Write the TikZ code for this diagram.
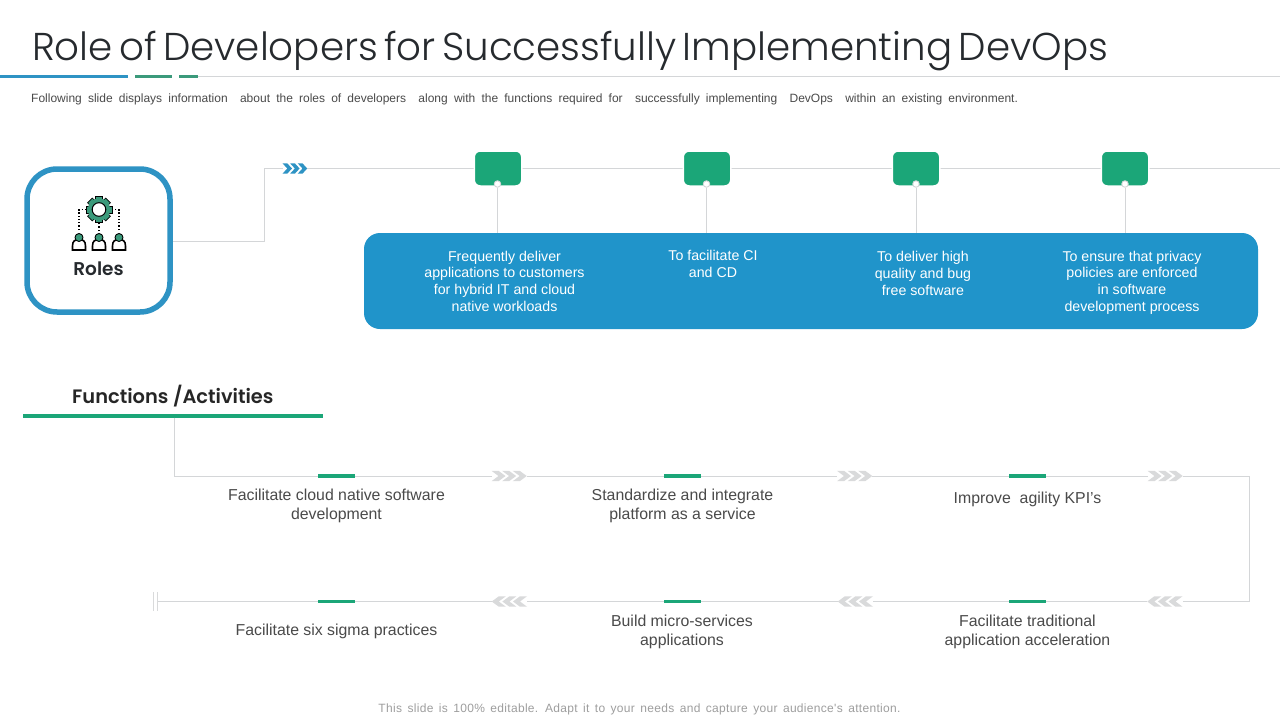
\documentclass[tikz,border=0pt]{standalone}
\usepackage{fontspec}
\setmainfont{Liberation Sans}
\newfontfamily\titlefont[WordSpace=0.6]{Poppins Light}
\newfontfamily\headfont{Poppins SemiBold}
\newfontfamily\subfont[WordSpace=1.85]{Liberation Sans}
\newfontfamily\footfont[LetterSpace=2.6,WordSpace=1.5]{Liberation Sans}
\definecolor{bluemain}{HTML}{2094CA}
\definecolor{blueedge}{HTML}{2E93C4}
\definecolor{greenmain}{HTML}{1BA678}
\definecolor{greendark}{HTML}{3B9A7B}
\definecolor{linegrey}{HTML}{D4D6D8}
\definecolor{chevgrey}{HTML}{D9DADB}
\definecolor{textgrey}{HTML}{4A4A4A}
\definecolor{darktext}{HTML}{262A2E}
\newcommand{\chevrons}[6]{% x y dirsign width pitch colour
  \fill[white] ({#1},{#2-5.5}) rectangle ({#1+#3*(2*#5+#4)},{#2+5.5});
  \foreach \ci in {0,1,2}{
    \fill[#6,shift={({#1+#3*\ci*#5},#2)}] (0,-5.2) -- ({#3*#4*0.5},-5.2) -- ({#3*#4},0) -- ({#3*#4*0.5},5.2) -- (0,5.2) -- ({#3*#4*0.5},0) -- cycle;
  }}
\tikzset{
  conn/.style={draw=linegrey,line width=0.9pt},
  greentab/.style={draw=white,line width=1.5pt,fill=greenmain,rounded corners=6pt,minimum width=47.5pt,minimum height=35pt,inner sep=0pt},
  ringdot/.style={circle,draw=linegrey,fill=white,line width=0.9pt,minimum size=6.5pt,inner sep=0pt},
  banner/.style={fill=bluemain,rounded corners=16pt,minimum width=894pt,minimum height=96pt,inner sep=0pt},
  rolebox/.style={draw=blueedge,line width=5.5pt,fill=white,rounded corners=30pt,minimum width=143pt,minimum height=143pt,inner sep=0pt},
  bannertext/.style={text=white,font=\fontsize{14.2}{16.7}\selectfont,align=center,inner sep=0pt},
  fntext/.style={text=textgrey,font=\fontsize{15.85}{19}\selectfont,align=center,inner sep=0pt},
  gdash/.style={fill=greenmain,minimum width=37pt,minimum height=3.2pt,inner sep=0pt},
  person/.style={draw=black,line width=1.6pt},
}
\begin{document}
\begin{tikzpicture}[x=1pt,y=-1pt]
\useasboundingbox (0,0) rectangle (1280,720);
\fill[white] (0,0) rectangle (1280,720);
% header
\node[anchor=west,inner sep=0pt,text=darktext,font=\titlefont\fontsize{38.8}{40}\selectfont] (title) at (32,51.5) {Role of Developers for Successfully Implementing DevOps};
\coordinate (hl) at (198,76.5);
\coordinate (hr) at (1280,76.5);
\draw[conn] (hl) -- (hr);
\fill[blueedge] (0,74.5) rectangle (128,77.5);
\fill[greendark] (135,74.5) rectangle (172,77.5);
\fill[greendark] (179,74.5) rectangle (198,77.5);
\node[anchor=west,inner sep=0pt,text=textgrey,font=\subfont\fontsize{12}{14}\selectfont] (sub) at (31,99.3) {Following slide displays information\ \ about the roles of developers\ \ along with the functions required for\ \ successfully implementing\ \ DevOps\ \ within an existing environment.};
% roles
\node[rolebox] (roles) at (98.5,240.5) {};
\node[inner sep=0pt,text=darktext,font=\headfont\fontsize{18.5}{22}\selectfont] (rolestxt) at (98.5,269) {Roles};
% icon
\foreach \xp in {79,99,119}{
  \draw[person,fill=white] (\xp-6.5,250) -- (\xp-6.5,246) .. controls (\xp-6.5,241) and (\xp-4,239.5) .. (\xp,239.5) .. controls (\xp+4,239.5) and (\xp+6.5,241) .. (\xp+6.5,246) -- (\xp+6.5,250) -- cycle;
  \draw[fill=greendark,draw=black,line width=0.9pt] (\xp,237.5) circle (4);
}
\draw[line width=1.3pt,dotted] (79,230) -- (79,209.5) -- (86,209.5);
\draw[line width=1.3pt,dotted] (119,230) -- (119,209.5) -- (112,209.5);
\draw[line width=1.3pt,dotted] (99,231) -- (99,223);
\foreach \a in {0,45,...,315}{
  \fill[greendark,draw=black,line width=0.6pt,rotate around={\a:(99,209.5)}] (95.6,196.7) rectangle (102.4,203);
}
\draw[fill=greendark,draw=none] (99,209.5) circle (11.2);
\draw[fill=white,draw=black,line width=1pt] (99,209.5) circle (6.8);
% timeline
\coordinate (railend) at (1280,168);
\coordinate (elbow) at (264,168);
\coordinate (rolesout) at (173,241.5);
\draw[conn] (rolesout) -- (264,241.5) -- (elbow) -- (railend);
\chevrons{282.5}{168.5}{1}{9.5}{7.6}{blueedge}
% banner
\node[banner] (band) at (811,281) {};
\node[greentab] (t1) at (498,168.5) {};
\node[greentab] (t2) at (707,168.5) {};
\node[greentab] (t3) at (916,168.5) {};
\node[greentab] (t4) at (1125,168.5) {};
\foreach \n/\x in {1/497.5,2/706.5,3/916,4/1125}{
  \node[ringdot] (d\n) at (\x,184) {};
  \draw[conn] (d\n.south) -- (\x,233);
}
\node[bannertext] (b1) at (504.5,281) {Frequently deliver\\applications to customers\\for hybrid IT and cloud\\native workloads};
\node[bannertext] (b2) at (713,264) {To facilitate CI\\and CD};
\node[bannertext] (b3) at (923,273.5) {To deliver high\\quality and bug\\free software};
\node[bannertext] (b4) at (1132,282.5) {To ensure that privacy\\policies are enforced\\in software\\development process};
% functions
\node[anchor=west,inner sep=0pt,text=black!85,font=\headfont\fontsize{19.4}{24}\selectfont] (fn) at (72,396.5) {Functions /Activities};
\node[fill=greenmain,minimum width=300pt,minimum height=3.6pt,inner sep=0pt] (fnrule) at (173,415.7) {};
\node[gdash] (a1) at (336.5,476) {};
\node[gdash] (a2) at (682.5,476) {};
\node[gdash] (a3) at (1027.5,476) {};
\node[gdash] (a4) at (336.5,601.5) {};
\node[gdash] (a5) at (682.5,601.5) {};
\node[gdash] (a6) at (1027.5,601.5) {};
\coordinate (tailend) at (157,601.5);
\coordinate (fnstart) at (174,417.5);
\draw[conn] (fnstart) -- (174,476) -- (a1.west);
\draw[conn] (a1) -- (a2);
\draw[conn] (a2) -- (a3);
\draw[conn] (a3.east) -- (1249.5,476) -- (1249.5,601.5) -- (a6.east);
\draw[conn] (a6) -- (a5);
\draw[conn] (a5) -- (a4);
\draw[conn] (a4.west) -- (tailend);
\draw[draw=chevgrey,line width=0.9pt] (153,592) -- (153,611);
\draw[draw=chevgrey,line width=0.9pt] (157,592) -- (157,611);
\chevrons{491.5}{476}{1}{14}{10.6}{chevgrey}
\chevrons{837}{476}{1}{14}{10.6}{chevgrey}
\chevrons{1147.5}{476}{1}{14}{10.6}{chevgrey}
\chevrons{527}{601.5}{-1}{14}{10.6}{chevgrey}
\chevrons{873}{601.5}{-1}{14}{10.6}{chevgrey}
\chevrons{1182.5}{601.5}{-1}{14}{10.6}{chevgrey}
\node[fntext] (f1) at (336.5,506) {Facilitate cloud native software\\development};
\node[fntext] (f2) at (682.5,506) {Standardize and integrate\\platform as a service};
\node[fntext] (f3) at (1027.5,499.5) {Improve\ \ agility KPI’s};
\node[fntext] (f4) at (336.5,631.5) {Facilitate six sigma practices};
\node[fntext] (f5) at (682,632) {Build micro-services\\applications};
\node[fntext] (f6) at (1027.5,632) {Facilitate traditional\\application acceleration};
\node[inner sep=0pt,text=black!38,font=\footfont\fontsize{12}{14}\selectfont] (foot) at (639.5,709) {This slide is 100\%\ editable. Adapt it to your needs and capture your audience's attention.};
\end{tikzpicture}
\end{document}
